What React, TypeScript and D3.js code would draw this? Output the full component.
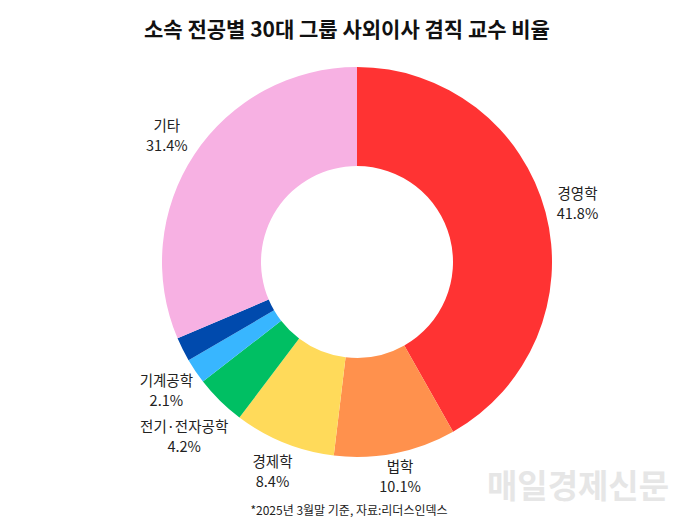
import React from "react";
import * as d3 from "d3";

const categories = ["경영학", "법학", "경제학", "전기·전자공학", "기계공학", "기타(미표기)", "기타"];
const values = [41.8, 10.1, 8.4, 4.2, 2.1, 2.0, 31.4];
const showLabel = [true, true, true, true, true, false, true];
const colors = ["#FF3333", "#FF914D", "#FFDA5A", "#00BF63", "#38B6FF", "#004AAD", "#F7B1E3"];
const labelRadius = [228, 219, 226, 246, 230, 228, 228];

const W = 700;
const H = 528;

export default function App() {
  const cx = 357;
  const cy = 262;
  const outerR = 195;
  const innerR = 96;

  const pie = d3.pie<number>().sort(null).value((d) => d);
  const arcs = pie(values);
  const arcGen = d3.arc<d3.PieArcDatum<number>>().innerRadius(innerR).outerRadius(outerR);

  return (
    <svg width={W} height={H} style={{ position: "absolute", left: 0, top: 0 }}
      fontFamily="'Noto Sans CJK KR', 'Noto Sans', sans-serif">
      <rect width={W} height={H} fill="#fff" />
      <text x={347} y={37} textAnchor="middle" fontSize={21} fontWeight="bold" fill="#111">
        소속 전공별 30대 그룹 사외이사 겸직 교수 비율
      </text>
      <g transform={`translate(${cx},${cy})`}>
        {arcs.map((a, i) => (
          <path key={i} d={arcGen(a) || ""} fill={colors[i]} />
        ))}
        {arcs.map((a, i) => {
          if (!showLabel[i]) return null;
          const mid = (a.startAngle + a.endAngle) / 2;
          const r = labelRadius[i];
          const x = Math.sin(mid) * r;
          const y = -Math.cos(mid) * r;
          return (
            <g key={"l" + i} transform={`translate(${x},${y})`}>
              <text textAnchor="middle" y={-5} fontSize={14.5} fill="#222">{categories[i]}</text>
              <text textAnchor="middle" y={15} fontSize={14.5} fill="#222">{values[i].toFixed(1)}%</text>
            </g>
          );
        })}
      </g>
      <text x={578} y={498} textAnchor="middle" fontSize={33} fontWeight="bold" fill="#E6E6E6">
        매일경제신문
      </text>
      <text x={349} y={515} textAnchor="middle" fontSize={12} fill="#222">
        *2025년 3월말 기준, 자료:리더스인덱스
      </text>
    </svg>
  );
}
